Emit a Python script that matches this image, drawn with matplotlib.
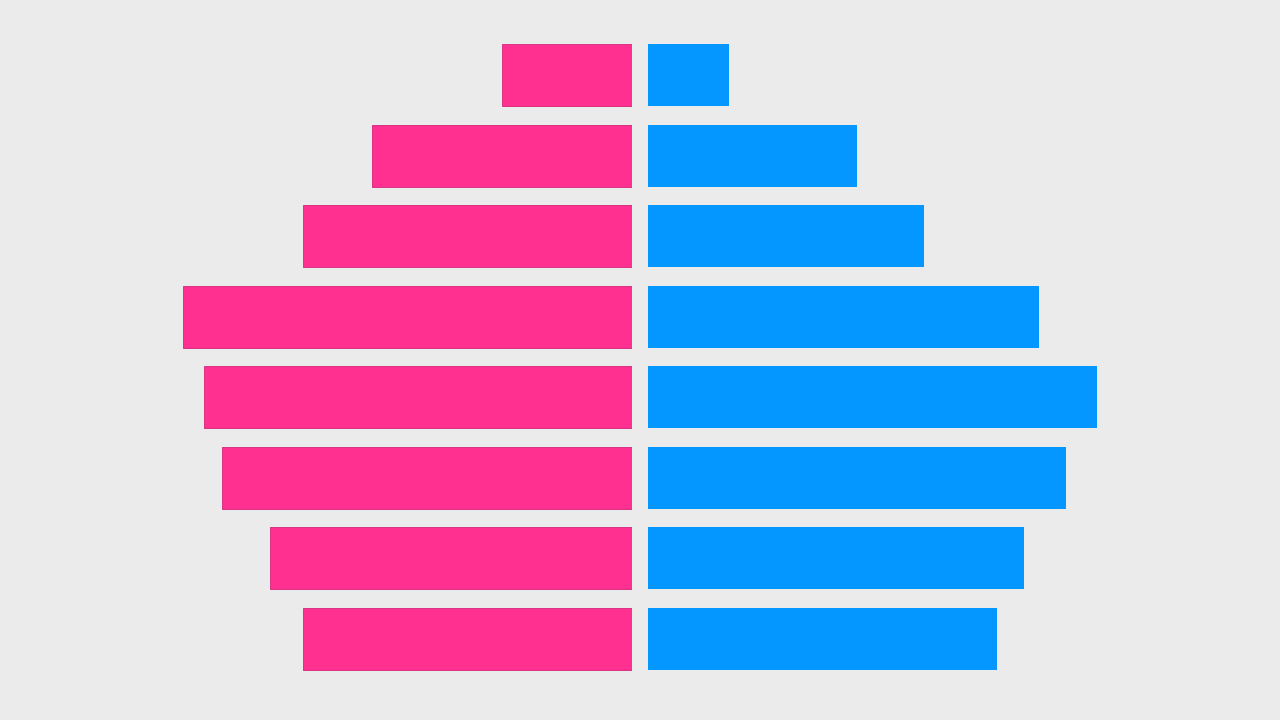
import matplotlib
matplotlib.use("Agg")
import matplotlib.pyplot as plt

# bar lengths (rows top to bottom)
groups = ["g1", "g2", "g3", "g4", "g5", "g6", "g7", "g8"]
left_vals = [130, 260, 329, 449, 428, 410, 362, 329]
right_vals = [81, 209, 276, 391, 449, 418, 376, 349]

BG = "#EBEBEB"
PINK = "#FF3090"
BLUE = "#0397FF"

fig = plt.figure(figsize=(12.8, 7.2), dpi=100, facecolor=BG)

ax_l = fig.add_axes([0, 0, 632 / 1280, 1])
ax_r = fig.add_axes([648 / 1280, 0, 632 / 1280, 1])

ypos = list(range(len(groups)))

ax_l.barh(ypos, left_vals, height=0.77, color=PINK, edgecolor="#D0257A", linewidth=0.6)
ax_r.barh(ypos, right_vals, height=0.77, color=BLUE, linewidth=0)

ax_l.set_xlim(632, 0)
ax_r.set_xlim(0, 632)
for ax in (ax_l, ax_r):
    ax.set_ylim(8.012, -0.932)
    ax.set_facecolor(BG)
    ax.axis("off")

fig.savefig("out.png", dpi=100, facecolor=BG)
